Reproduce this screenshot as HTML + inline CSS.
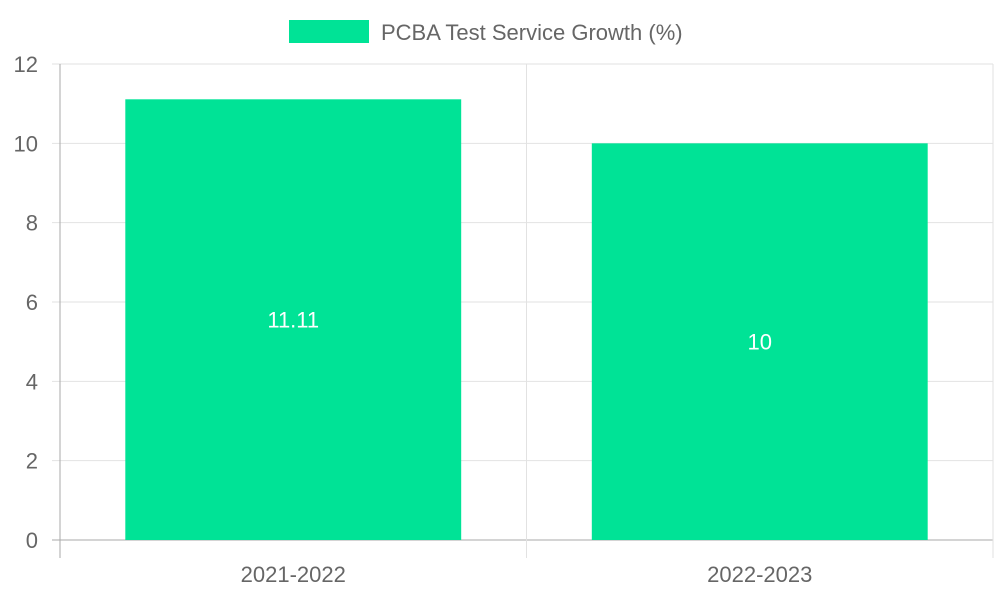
<!DOCTYPE html>
<html><head><meta charset="utf-8"><style>
html,body{margin:0;padding:0;background:#fff;}
svg{display:block;font-family:"Liberation Sans",sans-serif;}
</style></head><body>
<svg id="chart" width="1000" height="600"></svg>
<script>
const categories = ["2021-2022", "2022-2023"];
const values = [11.11, 10];
const yTicks = [0, 2, 4, 6, 8, 10, 12];
const seriesName = "PCBA Test Service Growth (%)";

const NS = "http://www.w3.org/2000/svg";
const svg = document.getElementById("chart");
const L = 60, R = 993, T = 64, B = 540, yMax = 12;
const y = v => B - (v / yMax) * (B - T);
const catW = (R - L) / categories.length;
const x = i => L + catW * i;
function mk(tag, attrs, parent) {
  const e = document.createElementNS(NS, tag);
  for (const k in attrs) e.setAttribute(k, attrs[k]);
  (parent || svg).appendChild(e);
  return e;
}

const grid = mk("g", {});


yTicks.forEach(t => {
  const ln = mk("line", {x1: 52, x2: R, y1: y(t), y2: y(t), stroke: t === 0 ? "#aaa" : "#e2e2e2", "stroke-width": 1}, grid);
  
  
  const tx = mk("text", {x: 38, y: y(t) + 8, "text-anchor": "end", "font-size": 22, fill: "#666"}, grid);
  tx.textContent = t;
  
  
});
for (let i = 0; i <= categories.length; i++) {
  const ln = mk("line", {x1: x(i), x2: x(i), y1: T, y2: 558, stroke: i === 0 ? "#aaa" : "#e2e2e2", "stroke-width": 1}, grid);
  
  
}

categories.forEach((c, i) => {
  const bw = catW * 0.72;
  const cx = x(i) + catW / 2;
  const r = mk("rect", {x: cx - bw / 2, y: y(values[i]), width: bw, height: B - y(values[i]), fill: "#00e396"});
  
  
  const v = mk("text", {x: cx, y: (y(values[i]) + B) / 2 + 8, "text-anchor": "middle", "font-size": 22, fill: "#fff"});
  v.textContent = values[i];
  
  
  const xl = mk("text", {x: cx, y: 582, "text-anchor": "middle", "font-size": 22, fill: "#666"});
  xl.textContent = c;
  
  
});

const lg = mk("g", {});


mk("rect", {x: 289, y: 20, width: 80, height: 23, fill: "#00e396"}, lg);
const lt = mk("text", {x: 381, y: 40, "font-size": 22, fill: "#666"}, lg);
lt.textContent = seriesName;
</script>
</body></html>
